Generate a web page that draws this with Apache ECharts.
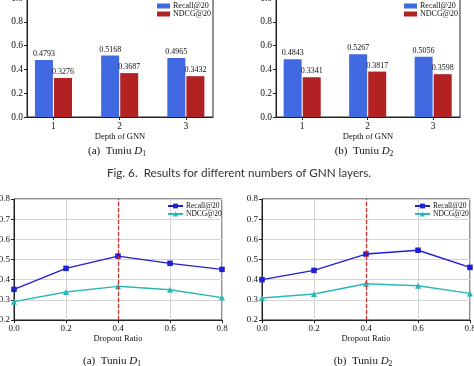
<!DOCTYPE html>
<html><head><meta charset="utf-8">
<script src="https://cdn.jsdelivr.net/npm/echarts@6/dist/echarts.min.js"></script>
<style>html,body{margin:0;padding:0;background:#fff}#c{width:474px;height:366px}</style>
</head><body><div id="c"></div>
<script>
// ---- data ----
const depthCategories = [1, 2, 3];
const barRecallD1 = [0.4793, 0.5168, 0.4965];
const barNdcgD1 = [0.3276, 0.3687, 0.3432];
const barRecallD2 = [0.4843, 0.5267, 0.5056];
const barNdcgD2 = [0.3341, 0.3817, 0.3598];
const dropoutRatios = [0.0, 0.2, 0.4, 0.6, 0.8];
const lineRecallD1 = [0.352, 0.456, 0.517, 0.481, 0.451];
const lineNdcgD1 = [0.291, 0.339, 0.367, 0.350, 0.311];
const lineRecallD2 = [0.400, 0.446, 0.527, 0.546, 0.461];
const lineNdcgD2 = [0.309, 0.329, 0.380, 0.370, 0.332];
const bestDropout = 0.4;
const seriesNames = ['Recall@20', 'NDCG@20'];

// ---- styles ----
const SERIF = 'Liberation Serif';
const INK = '#111';
const AXIS = '#222';
const BAR_BLUE = '#4169e1';
const BAR_RED = '#b22222';
const LINE_BLUE = '#1f1fd6';
const LINE_CYAN = '#2ab7b7';

const chart = echarts.init(document.getElementById('c'), null, {renderer: 'canvas'});

function pair(xs, ys) { return xs.map((x, i) => [x, ys[i]]); }

function barXAxis(gi) {
  return {
    type: 'value', gridIndex: gi, min: 0.6, max: 3.41,
    splitLine: {show: false},
    axisLine: {show: true, onZero: false, lineStyle: {color: AXIS, width: 1}},
    axisTick: {show: true, customValues: depthCategories, length: 3, lineStyle: {color: AXIS}},
    axisLabel: {customValues: depthCategories, margin: 4, fontSize: 9.5, fontFamily: SERIF, color: INK},
    name: 'Depth of GNN', nameLocation: 'middle', nameGap: 14,
    nameTextStyle: {fontSize: 8.5, fontFamily: SERIF, color: INK}
  };
}
function barYAxis(gi) {
  return {
    type: 'value', gridIndex: gi, min: 0, max: 1.0, interval: 0.2,
    splitLine: {show: false},
    axisLine: {show: true, onZero: false, lineStyle: {color: AXIS, width: 1}},
    axisTick: {show: true, length: 3, lineStyle: {color: AXIS}},
    axisLabel: {margin: 4, fontSize: 9.5, fontFamily: SERIF, color: INK, formatter: v => v.toFixed(1)}
  };
}
function lineXAxis(gi) {
  return {
    type: 'value', gridIndex: gi, min: 0, max: 0.8, interval: 0.2,
    splitLine: {show: true, lineStyle: {color: '#d4d4d4', width: 1}},
    axisLine: {show: true, onZero: false, lineStyle: {color: AXIS, width: 1}},
    axisTick: {show: true, length: 3, lineStyle: {color: AXIS}},
    axisLabel: {margin: 4, fontSize: 9, fontFamily: SERIF, color: INK, formatter: v => v.toFixed(1)},
    name: 'Dropout Ratio', nameLocation: 'middle', nameGap: 13,
    nameTextStyle: {fontSize: 8.5, fontFamily: SERIF, color: INK}
  };
}
function lineYAxis(gi) {
  return {
    type: 'value', gridIndex: gi, min: 0.2, max: 0.8, interval: 0.1,
    splitLine: {show: true, lineStyle: {color: '#d4d4d4', width: 1}},
    axisLine: {show: true, onZero: false, lineStyle: {color: AXIS, width: 1}},
    axisTick: {show: true, length: 3, lineStyle: {color: AXIS}},
    axisLabel: {margin: 4, fontSize: 9, fontFamily: SERIF, color: INK, formatter: v => v.toFixed(1)}
  };
}
function barSeries(name, gi, values, color) {
  return {
    type: 'bar', name: name, xAxisIndex: gi, yAxisIndex: gi,
    data: pair(depthCategories, values),
    barWidth: 18, barGap: '6%',
    itemStyle: {color: color},
    label: {show: true, position: 'top', distance: 2, fontSize: 8, fontFamily: SERIF, color: INK,
            formatter: p => p.value[1].toFixed(4)}
  };
}
function lineSeries(name, gi, values, color, symbol, withMark) {
  const s = {
    type: 'line', name: name + '|line', xAxisIndex: gi, yAxisIndex: gi,
    data: pair(dropoutRatios, values),
    symbol: symbol, symbolSize: symbol === 'rect' ? 5.5 : 6,
    lineStyle: {color: color, width: 1.4},
    itemStyle: {color: color}
  };
  if (withMark) {
    s.markLine = {
      silent: true, symbol: ['none', 'none'], label: {show: false},
      lineStyle: {color: '#e02828', type: [4, 2], width: 1.2},
      data: [{xAxis: bestDropout}]
    };
  }
  return s;
}
function barLegend(left) {
  return {
    data: seriesNames, left: left, top: 2, orient: 'vertical', icon: 'rect', padding: 0,
    itemWidth: 13, itemHeight: 5, itemGap: 0, selectedMode: false,
    textStyle: {fontSize: 8, fontFamily: SERIF, color: INK, padding: [0, 0, 0, -2]}
  };
}
function lineLegend(left) {
  return {
    data: seriesNames.map(n => n + '|line'), left: left, top: 202, orient: 'vertical', padding: 0,
    itemWidth: 15, itemHeight: 6, itemGap: 0, selectedMode: false,
    formatter: n => n.split('|')[0],
    textStyle: {fontSize: 7.5, fontFamily: SERIF, color: INK, padding: [0, 0, 0, -2]}
  };
}
function caption(x, y, letter, sub) {
  return {
    type: 'text', x: x, y: y, silent: true,
    style: {
      text: '{n|(' + letter + ')  Tuniu }{i|D}{s|' + sub + '}',
      align: 'center', verticalAlign: 'middle',
      rich: {
        n: {fontSize: 11, fontFamily: SERIF, fill: INK, color: INK, lineHeight: 14},
        i: {fontSize: 11, fontFamily: SERIF, fontStyle: 'italic', fill: INK, color: INK, lineHeight: 14},
        s: {fontSize: 7.5, fontFamily: SERIF, fill: INK, color: INK, verticalAlign: 'bottom'}
      }
    }
  };
}

const border = {show: true, borderColor: AXIS, borderWidth: 1, backgroundColor: 'transparent',
                outerBoundsMode: 'none', containLabel: false};

chart.setOption({
  animation: false,
  backgroundColor: '#fff',
  grid: [
    Object.assign({left: 27, top: -2, width: 186, height: 119}, border),
    Object.assign({left: 276, top: -2, width: 184, height: 119}, border),
    Object.assign({left: 14, top: 199, width: 208, height: 121}, border),
    Object.assign({left: 262, top: 199, width: 208, height: 121}, border)
  ],
  xAxis: [barXAxis(0), barXAxis(1), lineXAxis(2), lineXAxis(3)],
  yAxis: [barYAxis(0), barYAxis(1), lineYAxis(2), lineYAxis(3)],
  legend: [barLegend(157), barLegend(404), lineLegend(167), lineLegend(414)],
  series: [
    barSeries(seriesNames[0], 0, barRecallD1, BAR_BLUE),
    barSeries(seriesNames[1], 0, barNdcgD1, BAR_RED),
    barSeries(seriesNames[0], 1, barRecallD2, BAR_BLUE),
    barSeries(seriesNames[1], 1, barNdcgD2, BAR_RED),
    lineSeries(seriesNames[0], 2, lineRecallD1, LINE_BLUE, 'rect', true),
    lineSeries(seriesNames[1], 2, lineNdcgD1, LINE_CYAN, 'triangle', false),
    lineSeries(seriesNames[0], 3, lineRecallD2, LINE_BLUE, 'rect', true),
    lineSeries(seriesNames[1], 3, lineNdcgD2, LINE_CYAN, 'triangle', false)
  ],
  graphic: [
    caption(117, 151, 'a', '1'),
    caption(364, 151, 'b', '2'),
    {
      type: 'text', x: 239, y: 173, silent: true,
      style: {text: 'Fig. 6.  Results for different numbers of GNN layers.', align: 'center',
              verticalAlign: 'middle', fontSize: 11.7, fontFamily: 'Lato', fill: '#333'}
    },
    caption(112, 361, 'a', '1'),
    caption(363, 361, 'b', '2')
  ]
});
</script>
</body></html>
